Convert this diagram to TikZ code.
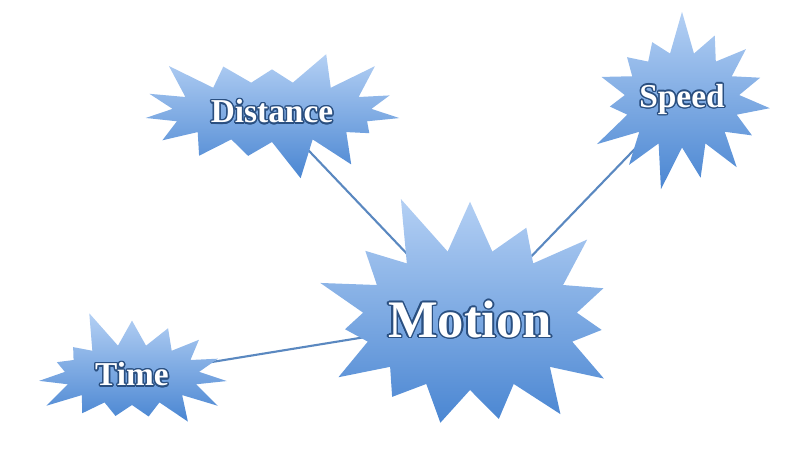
\documentclass[tikz,border=0pt]{standalone}
\usepackage{fontspec}
\setmainfont{Liberation Serif}
\usepackage{contour}
\contourlength{0.8pt}
\contournumber{16}
\usetikzlibrary{shapes.symbols,backgrounds}
\definecolor{btop}{HTML}{B4D0F4}
\definecolor{bbot}{HTML}{4A86D2}
\definecolor{bline}{HTML}{5A88C0}
\definecolor{bedge}{HTML}{2A4F80}
\tikzset{
  burst/.style={starburst, starburst points=15, starburst point height=#1, draw=none,
    top color=btop, bottom color=bbot, inner sep=0pt},
  link/.style={draw=bline, line width=1.2pt}
}
\newcommand{\btext}[1]{\contour{bedge}{\textcolor{white}{#1}}}
\begin{document}
\begin{tikzpicture}[x=0.02cm,y=-0.02cm]
\useasboundingbox (0,0) rectangle (800,460);
\node[burst=0.8cm, minimum width=5.6cm, minimum height=2.8cm, random starburst=3] (dist) at (272,112) {};
\node[font=\bfseries\fontsize{19}{20}\selectfont] at (dist) {\btext{Distance}};
\node[burst=0.9cm, minimum width=4.1cm, minimum height=3.7cm, random starburst=7] (speed) at (682,100) {};
\node[font=\bfseries\fontsize{19}{20}\selectfont] at (speed) {\btext{Speed}};
\node[burst=1.3cm, minimum width=6.9cm, minimum height=5.4cm, random starburst=11] (mot) at (470,320) {};
\node[font=\bfseries\fontsize{30}{32}\selectfont] at (mot) {\btext{Motion}};
\node[burst=0.8cm, minimum width=4.3cm, minimum height=2.8cm, random starburst=5] (time) at (132,375) {};
\node[font=\bfseries\fontsize{19}{20}\selectfont] at (time) {\btext{Time}};
\begin{scope}[on background layer]
\draw[link] (dist.center) -- (mot.center);
\draw[link] (speed.center) -- (mot.center);
\draw[link] (time.center) -- (mot.center);
\end{scope}
\end{tikzpicture}
\end{document}
